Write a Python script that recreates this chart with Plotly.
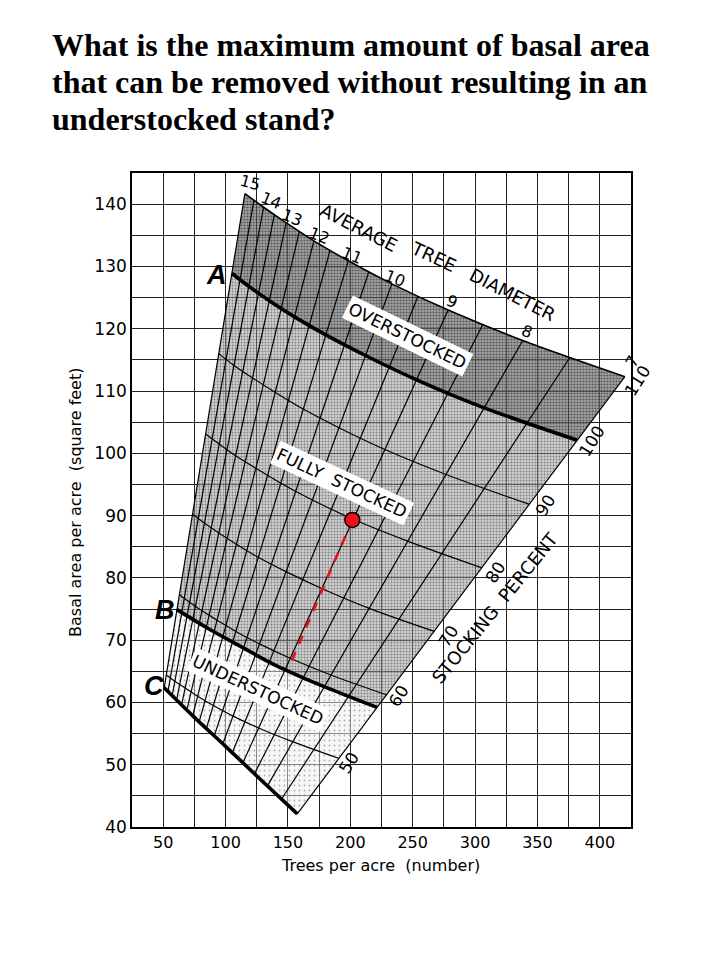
import plotly.graph_objects as go

# average tree diameter lines (inches): upper end on the 110 % curve, lower end on the C-line
diameters = [15, 14.5, 14, 13.5, 13, 12.5, 12, 11.5, 11, 10.5, 10, 9.5, 9, 8.5, 8, 7.5, 7]
dia_top_trees = [115.5, 122.7, 130.5, 139.1, 148.6, 159.1, 170.8, 183.8, 198.4, 214.8,
                 233.3, 254.3, 278.4, 306.0, 338.2, 375.7, 420.1]
dia_top_ba = [141.7, 140.6, 139.5, 138.3, 137.0, 135.6, 134.1, 132.6, 130.9, 129.1,
              127.2, 125.2, 123.0, 120.6, 118.1, 115.3, 112.3]
dia_bot_trees = [50.8, 53.9, 57.2, 60.8, 64.8, 69.1, 73.8, 79.0, 84.7, 91.0,
                 97.9, 105.5, 114.0, 123.3, 133.6, 144.9, 157.5]
dia_bot_ba = [62.35, 61.8, 61.1, 60.45, 59.7, 58.9, 58.0, 57.0, 55.9, 54.7,
              53.4, 51.95, 50.35, 48.6, 46.6, 44.5, 42.1]

# stocking percent curves, read at the whole-inch diameter lines (15 -> 7)
s110_trees = [115.5, 130.5, 148.6, 170.8, 198.4, 233.3, 278.4, 338.2, 420.1]
s110_ba = [141.7, 139.5, 137.0, 134.1, 130.9, 127.2, 123.0, 118.1, 112.3]
a_trees = [105.0, 118.6, 135.1, 155.3, 180.3, 212.1, 253.1, 307.4, 381.9]
a_ba = [128.9, 126.8, 124.5, 121.9, 119.0, 115.7, 111.8, 107.3, 102.1]
s90_trees = [94.5, 106.8, 121.6, 139.7, 162.3, 190.9, 227.7, 276.7, 343.7]
s90_ba = [116.0, 114.1, 112.1, 109.8, 107.1, 104.1, 100.6, 96.6, 91.8]
s80_trees = [84.0, 94.9, 108.1, 124.2, 144.3, 169.6, 202.4, 245.9, 305.6]
s80_ba = [103.1, 101.5, 99.6, 97.6, 95.2, 92.5, 89.4, 85.9, 81.6]
s70_trees = [73.5, 83.0, 94.6, 108.7, 126.2, 148.4, 177.1, 215.2, 267.4]
s70_ba = [90.2, 88.8, 87.2, 85.4, 83.3, 81.0, 78.3, 75.1, 71.4]
s60_trees = [63.0, 71.2, 81.1, 93.2, 108.2, 127.2, 151.8, 184.5, 229.2]
s60_ba = [77.3, 76.1, 74.7, 73.2, 71.4, 69.4, 67.1, 64.4, 61.2]
s50_trees = [52.5, 59.3, 67.6, 77.6, 90.2, 106.0, 126.5, 153.7, 191.0]
s50_ba = [64.4, 63.4, 62.3, 61.0, 59.5, 57.8, 55.9, 53.7, 51.0]

b_trees = [61.0, 85.0, 112.0, 138.5, 165.0, 192.0, 221.4]
b_ba = [74.9, 72.0, 69.0, 66.1, 63.7, 61.5, 59.2]
c_trees = [50.8, 75.0, 100.0, 125.0, 157.5]
c_ba = [62.35, 57.6, 52.95, 48.2, 42.1]

# example stand and the cut down to the B-line
stand_trees = [201.6]
stand_ba = [89.3]
cut_trees = [201.6, 150.5]
cut_ba = [89.3, 65.5]

dia_labels = ['15', '14', '13', '12', '11', '10', '9', '8']
dia_label_trees = [119.3, 136.4, 153.3, 174.6, 201.4, 236.1, 281.5, 341.6]
dia_label_ba = [143.4, 140.6, 137.9, 134.9, 131.8, 128.1, 124.4, 119.6]
pct_labels = ['100', '90', '80', '70', '60', '50']
pct_label_trees = [393.7, 356.3, 316.2, 278.8, 238.7, 198.6]
pct_label_ba = [101.9, 91.75, 81.0, 70.6, 61.0, 50.3]

FONT = 'DejaVu Sans'

fig = go.Figure()


def region(xs, ys, fg, bg, size, solidity):
    fig.add_trace(go.Scatter(
        x=xs, y=ys, mode='lines', fill='toself', line=dict(width=0),
        fillcolor=bg,
        fillpattern=dict(shape='.', fgcolor=fg, bgcolor=bg, size=size, solidity=solidity),
        hoverinfo='skip', showlegend=False))


# shaded zones
region(s110_trees + a_trees[::-1], s110_ba + a_ba[::-1], '#111', 'rgba(112,112,112,0.65)', 3, 0.42)
region(a_trees + b_trees[::-1], a_ba + b_ba[::-1], '#333', 'rgba(160,160,160,0.5)', 3, 0.33)
region(b_trees + c_trees[::-1], b_ba + c_ba[::-1], '#666', 'rgba(240,240,240,0.5)', 5, 0.1)

# diameter lines
dx, dy = [], []
for i in range(len(diameters)):
    dx += [dia_top_trees[i], dia_bot_trees[i], None]
    dy += [dia_top_ba[i], dia_bot_ba[i], None]
fig.add_trace(go.Scatter(x=dx, y=dy, mode='lines', line=dict(color='black', width=1.2),
                         hoverinfo='skip', showlegend=False))


def curve(xs, ys, width):
    fig.add_trace(go.Scatter(x=xs, y=ys, mode='lines',
                             line=dict(color='black', width=width, shape='spline'),
                             hoverinfo='skip', showlegend=False))


curve(s110_trees, s110_ba, 1.6)
for xs, ys in [(s90_trees, s90_ba), (s80_trees, s80_ba), (s70_trees, s70_ba),
               (s60_trees, s60_ba), (s50_trees, s50_ba)]:
    curve(xs, ys, 1.2)
curve(a_trees, a_ba, 3.6)
curve(b_trees, b_ba, 3.6)
curve(c_trees, c_ba, 3.6)

# cut line and stand point
fig.add_trace(go.Scatter(x=cut_trees, y=cut_ba, mode='lines',
                         line=dict(color='#e8101a', width=2.6, dash='dash'),
                         hoverinfo='skip', showlegend=False))
fig.add_trace(go.Scatter(x=stand_trees, y=stand_ba, mode='markers',
                         marker=dict(color='#f0101a', size=15, line=dict(color='black', width=1.5)),
                         hoverinfo='skip', showlegend=False))

ann = []
for i, t in enumerate(dia_labels):
    ann.append(dict(x=dia_label_trees[i], y=dia_label_ba[i], text=t, showarrow=False,
                    textangle=15 if t == '15' else 22,
                    font=dict(family=FONT, size=16, color='black')))
for i, t in enumerate(pct_labels):
    ann.append(dict(x=pct_label_trees[i], y=pct_label_ba[i], text=t, showarrow=False,
                    textangle=-58, font=dict(family=FONT, size=17, color='black')))
# the two labels sitting on the right frame
ann.append(dict(xref='paper', yref='paper', x=1.002, y=0.712, xanchor='center', yanchor='middle',
                text='7', showarrow=False, textangle=-60,
                font=dict(family=FONT, size=16, color='black')))
ann.append(dict(xref='paper', yref='paper', x=1.0132, y=0.6813, xanchor='center', yanchor='middle',
                text='110', showarrow=False, textangle=-58,
                font=dict(family=FONT, size=17, color='black')))

words = [('AVERAGE', 206.6, 136.3, 27), ('TREE', 266.6, 131.6, 25),
         ('DIAMETER', 329.9, 125.5, 27), ('STOCKING  PERCENT', 316.3, 75.2, -51)]
for t, x, y, a in words:
    ann.append(dict(x=x, y=y, text=t, showarrow=False, textangle=a,
                    font=dict(family=FONT, size=18, color='black')))

boxed = [('OVERSTOCKED', 245.9, 118.8, 26), ('FULLY  STOCKED', 193.2, 95.2, 25),
         ('UNDERSTOCKED', 126.2, 62.05, 25)]
for t, x, y, a in boxed:
    ann.append(dict(x=x, y=y, text=t, showarrow=False, textangle=a, bgcolor='white',
                    borderpad=2, font=dict(family=FONT, size=17, color='black')))

for t, x, y in [('A', 93.1, 128.7), ('B', 51.7, 74.9), ('C', 42.3, 62.6)]:
    ann.append(dict(x=x, y=y, text='<b><i>' + t + '</i></b>', showarrow=False,
                    font=dict(family='Liberation Sans', size=27, color='black')))

title_lines = ['What is the maximum amount of basal area',
               'that can be removed without resulting in an',
               'understocked stand?']
for k, line in enumerate(title_lines):
    ann.append(dict(xref='paper', yref='paper', x=-0.1637, y=(827.3 - (45 + 37 * k)) / 654,
                    xanchor='left', yanchor='middle', showarrow=False,
                    text='<b>' + line + '</b>',
                    font=dict(family='Liberation Serif', size=32, color='black')))

ann.append(dict(xref='paper', yref='paper', x=0.4976, y=-0.0592, xanchor='center', yanchor='middle',
                showarrow=False, text='Trees per acre  (number)',
                font=dict(family=FONT, size=16, color='black')))
ann.append(dict(xref='paper', yref='paper', x=-0.1136, y=0.496, xanchor='center', yanchor='middle',
                showarrow=False, textangle=-90, text='Basal area per acre  (square feet)',
                font=dict(family=FONT, size=16, color='black')))

grid = dict(showgrid=True, gridcolor='#222', gridwidth=1.2)
fig.update_layout(
    width=720, height=960,
    margin=dict(l=132, r=89, t=173, b=133),
    paper_bgcolor='white', plot_bgcolor='white',
    annotations=ann,
    xaxis=dict(range=[25, 425], tick0=50, dtick=50, **grid,
               minor=dict(dtick=25, tick0=0, **grid),
               showline=True, mirror=True, linecolor='black', linewidth=1.6,
               zeroline=False, tickfont=dict(family=FONT, size=16, color='black')),
    yaxis=dict(range=[40, 145], tick0=0, dtick=10, **grid,
               minor=dict(dtick=5, tick0=0, **grid),
               showline=True, mirror=True, linecolor='black', linewidth=1.6,
               zeroline=False, tickfont=dict(family=FONT, size=17, color='black')),
)

fig.write_html("out.html", config={'displayModeBar': False},
               post_script="document.body.style.margin='0px';")
